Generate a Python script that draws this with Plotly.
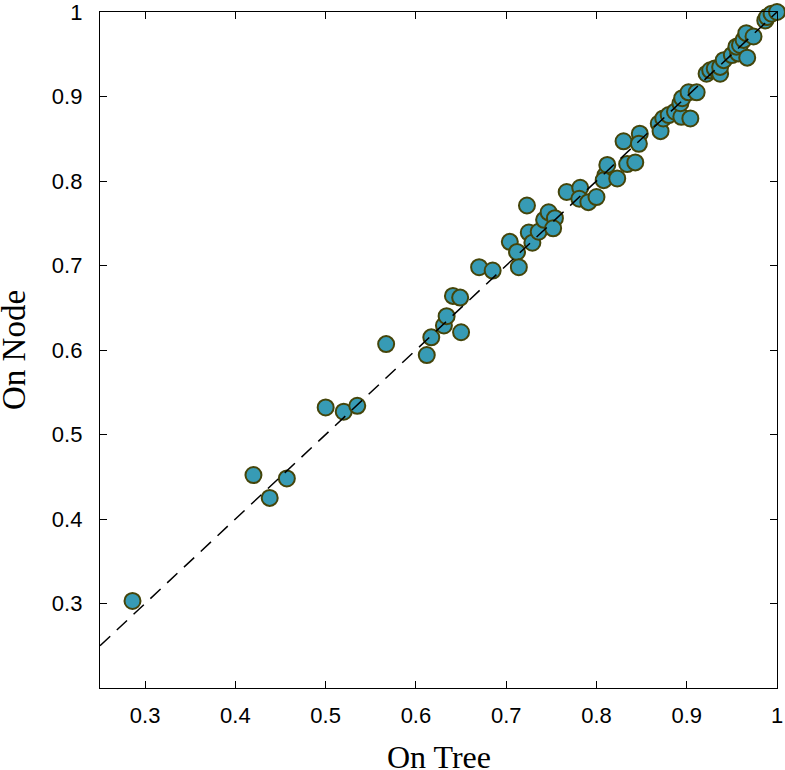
import plotly.graph_objects as go

# Scatter of values measured on the tree vs. on the node
on_tree = [
    0.286, 0.420, 0.438, 0.457, 0.500, 0.520, 0.535, 0.567,
    0.612, 0.617, 0.631, 0.634, 0.650, 0.641, 0.649, 0.670,
    0.685, 0.704, 0.712, 0.714, 0.723, 0.725, 0.729, 0.736,
    0.742, 0.747, 0.754, 0.752, 0.767, 0.782, 0.781, 0.791,
    0.800, 0.810, 0.812, 0.808, 0.823, 0.834, 0.843, 0.830,
    0.848, 0.847, 0.869, 0.871, 0.874, 0.880, 0.887, 0.894,
    0.904, 0.893, 0.895, 0.902, 0.911, 0.922, 0.926, 0.931,
    0.937, 0.937, 0.941, 0.950, 0.957, 0.955, 0.959, 0.963,
    0.967, 0.966, 0.974, 0.987, 0.989, 0.994, 1.000,
]
on_node = [
    0.303, 0.452, 0.425, 0.448, 0.532, 0.527, 0.534, 0.607,
    0.594, 0.615, 0.629, 0.640, 0.621, 0.664, 0.662, 0.698,
    0.694, 0.728, 0.716, 0.698, 0.771, 0.739, 0.727, 0.740,
    0.754, 0.763, 0.756, 0.744, 0.787, 0.792, 0.779, 0.775,
    0.781, 0.807, 0.819, 0.801, 0.803, 0.820, 0.822, 0.847,
    0.856, 0.844, 0.868, 0.859, 0.874, 0.878, 0.882, 0.876,
    0.874, 0.892, 0.898, 0.905, 0.905, 0.927, 0.931, 0.933,
    0.927, 0.935, 0.943, 0.949, 0.951, 0.959, 0.961, 0.967,
    0.946, 0.975, 0.971, 0.990, 0.994, 0.998, 1.000,
]

# reference line y = x
ref_line = [0.25, 1.0]

x_ticks = [0.3, 0.4, 0.5, 0.6, 0.7, 0.8, 0.9, 1.0]
x_labels = ["0.3", "0.4", "0.5", "0.6", "0.7", "0.8", "0.9", "1"]
y_ticks = [0.3, 0.4, 0.5, 0.6, 0.7, 0.8, 0.9, 1.0]
y_labels = ["0.3", "0.4", "0.5", "0.6", "0.7", "0.8", "0.9", "1"]

fig = go.Figure()

fig.add_trace(go.Scatter(
    x=on_tree, y=on_node, mode="markers",
    marker=dict(size=16, color="#379bb5",
                line=dict(color="#45450a", width=2)),
    cliponaxis=False,
    showlegend=False,
))

# dashed diagonal drawn over the markers
fig.add_trace(go.Scatter(
    x=ref_line, y=ref_line, mode="lines",
    line=dict(color="black", width=1.5, dash="14px,9px"),
    showlegend=False,
))

axis_common = dict(
    showgrid=False, zeroline=False,
    showline=True, linecolor="black", linewidth=1.3, mirror="ticks",
    ticks="inside", ticklen=7, tickwidth=1.3, tickcolor="black",
    tickfont=dict(family="Liberation Sans", size=22, color="black"),
    ticklabeloverflow="allow",
)

fig.update_xaxes(
    range=[0.25, 1.0], tickvals=x_ticks, ticktext=x_labels,
    ticklabelstandoff=7,
    **axis_common,
)
fig.update_yaxes(
    range=[0.2, 1.0], tickvals=y_ticks, ticktext=y_labels,
    ticklabelstandoff=12,
    **axis_common,
)

title_font = dict(family="Liberation Serif", size=32, color="black")

# axis titles placed as annotations so they sit where the original has them
fig.add_annotation(
    text="On Tree", xref="paper", yref="paper", x=0.5, y=-0.1015,
    xanchor="center", yanchor="middle", showarrow=False, font=title_font,
)
fig.add_annotation(
    text="On Node", xref="paper", yref="paper", x=-0.127, y=0.5,
    xanchor="center", yanchor="middle", textangle=-90, showarrow=False,
    font=dict(family="Liberation Serif", size=33, color="black"),
)

fig.update_layout(
    width=785, height=770,
    paper_bgcolor="white", plot_bgcolor="white",
    margin=dict(l=99.5, r=8, t=11.7, b=81.5, autoexpand=False),
)

# drop the default page margin so the figure fills the window
fig.write_html("out.html", config={"displayModeBar": False},
               post_script="document.body.style.margin='0';")
